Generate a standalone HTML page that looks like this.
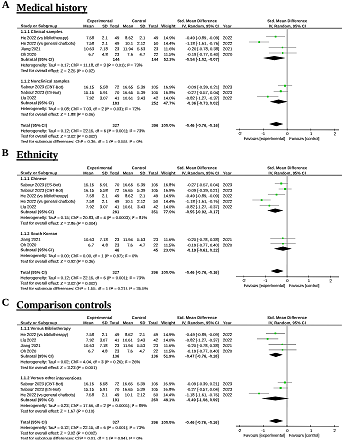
<!DOCTYPE html>
<html lang="en">
<head>
<meta charset="utf-8">
<title>Forest plots: Medical history, Ethnicity, Comparison controls</title>
<style>
html,body{margin:0;padding:0;background:#fff;}
body{width:342px;height:440px;overflow:hidden;}
svg{display:block;}
text{text-rendering:geometricPrecision;font-family:"Liberation Sans",Arial,sans-serif;font-size:4.08px;fill:#000;stroke:#000;stroke-width:0.06px;}
text.b{font-weight:bold;font-size:4.04px;stroke:none;fill:#111;}
text.w{font-size:4.25px;}
text.H{font-family:"Liberation Serif","Times New Roman",serif;font-weight:bold;font-size:10.58px;}
text.L{font-family:"Liberation Serif","Times New Roman",serif;font-weight:bold;font-size:10.3px;}
</style>
</head>
<body>
<svg width="342" height="440" viewBox="0 0 342 440">
<defs><filter id="sh" x="0" y="0" width="100%" height="100%" color-interpolation-filters="sRGB"><feConvolveMatrix order="3" kernelMatrix="0 -0.15 0 -0.15 1.6 -0.15 0 -0.15 0" edgeMode="duplicate" preserveAlpha="true"/></filter></defs>
<g filter="url(#sh)">
<rect x="0" y="0" width="342" height="440" fill="#fff"/>
<g transform="rotate(0.03 171 220)">
<text class="L" x="1.80" y="8.05">A</text>
<text class="H" x="16.40" y="11.10">Medical history</text>
<rect class="ul" x="16.4" y="12.35" width="70.80" height="1.15" fill="#000"/>
<text class="b" x="99.75" y="22.25" text-anchor="middle">Experimental</text>
<text class="b" x="139.00" y="22.25" text-anchor="middle">Control</text>
<text class="b" x="197.00" y="22.25" text-anchor="middle">Std. Mean Difference</text>
<text class="b" x="287.20" y="22.25" text-anchor="middle">Std. Mean Difference</text>
<text class="b" x="20.60" y="27.45">Study or Subgroup</text>
<text class="b" x="93.50" y="27.45" text-anchor="end">Mean</text>
<text class="b" x="107.70" y="27.45" text-anchor="end">SD</text>
<text class="b" x="119.10" y="27.45" text-anchor="end">Total</text>
<text class="b" x="133.00" y="27.45" text-anchor="end">Mean</text>
<text class="b" x="145.40" y="27.45" text-anchor="end">SD</text>
<text class="b" x="157.80" y="27.45" text-anchor="end">Total</text>
<text class="b w" x="175.30" y="27.45" text-anchor="end">Weight</text>
<text class="b" x="219.20" y="27.45" text-anchor="end">IV, Random, 95% CI</text>
<text class="b" x="223.00" y="27.45">Year</text>
<text class="b" x="287.20" y="27.45" text-anchor="middle">IV, Random, 95% CI</text>
<rect x="17.0" y="27.75" width="325" height="0.9" fill="#666"/>
<rect x="286.50" y="28.00" width="1.2" height="101.75" fill="#adadad"/>
<text class="b" x="20.60" y="33.00">1.1.1 Clinical samples</text>
<text class="t" x="20.60" y="39.30">He 2022 (vs bibliotherapy)</text>
<text class="t" x="94.00" y="39.30" text-anchor="end">7.58</text>
<text class="t" x="107.70" y="39.30" text-anchor="end">2.1</text>
<text class="t" x="119.30" y="39.30" text-anchor="end">49</text>
<text class="t" x="132.90" y="39.30" text-anchor="end">8.62</text>
<text class="t" x="145.20" y="39.30" text-anchor="end">2.1</text>
<text class="t" x="158.10" y="39.30" text-anchor="end">49</text>
<text class="t" x="175.00" y="39.30" text-anchor="end">14.9%</text>
<text class="t" x="219.00" y="39.30" text-anchor="end">-0.49 [-0.89, -0.09]</text>
<text class="t" x="223.00" y="39.30">2022</text>
<rect x="266.01" y="36.20" width="18.96" height="0.6" fill="#808080"/>
<rect x="274.59" y="35.60" width="1.79" height="1.79" fill="#12c812"/>
<text class="t" x="20.60" y="44.80">He 2022 (vs general chatbots)</text>
<text class="t" x="94.00" y="44.80" text-anchor="end">7.58</text>
<text class="t" x="107.70" y="44.80" text-anchor="end">2.1</text>
<text class="t" x="119.30" y="44.80" text-anchor="end">49</text>
<text class="t" x="132.90" y="44.80" text-anchor="end">10.1</text>
<text class="t" x="145.20" y="44.80" text-anchor="end">2.12</text>
<text class="t" x="158.10" y="44.80" text-anchor="end">50</text>
<text class="t" x="175.00" y="44.80" text-anchor="end">14.4%</text>
<text class="t" x="219.00" y="44.80" text-anchor="end">-1.18 [-1.61, -0.76]</text>
<text class="t" x="223.00" y="44.80">2022</text>
<rect x="248.94" y="41.70" width="20.15" height="0.6" fill="#808080"/>
<rect x="258.26" y="41.13" width="1.74" height="1.74" fill="#12c812"/>
<text class="t" x="20.60" y="50.30">Jiang 2021</text>
<text class="t" x="94.00" y="50.30" text-anchor="end">10.63</text>
<text class="t" x="107.70" y="50.30" text-anchor="end">7.18</text>
<text class="t" x="119.30" y="50.30" text-anchor="end">23</text>
<text class="t" x="132.90" y="50.30" text-anchor="end">11.94</text>
<text class="t" x="145.20" y="50.30" text-anchor="end">5.53</text>
<text class="t" x="158.10" y="50.30" text-anchor="end">23</text>
<text class="t" x="175.00" y="50.30" text-anchor="end">11.6%</text>
<text class="t" x="219.00" y="50.30" text-anchor="end">-0.20 [-0.78, 0.38]</text>
<text class="t" x="223.00" y="50.30">2021</text>
<rect x="268.61" y="47.20" width="27.49" height="0.6" fill="#808080"/>
<rect x="281.63" y="46.77" width="1.46" height="1.46" fill="#12c812"/>
<text class="t" x="20.60" y="55.80">Oh 2020</text>
<text class="t" x="94.00" y="55.80" text-anchor="end">6.7</text>
<text class="t" x="107.70" y="55.80" text-anchor="end">4.8</text>
<text class="t" x="119.30" y="55.80" text-anchor="end">23</text>
<text class="t" x="132.90" y="55.80" text-anchor="end">7.6</text>
<text class="t" x="145.20" y="55.80" text-anchor="end">4.7</text>
<text class="t" x="158.10" y="55.80" text-anchor="end">22</text>
<text class="t" x="175.00" y="55.80" text-anchor="end">11.5%</text>
<text class="t" x="219.00" y="55.80" text-anchor="end">-0.19 [-0.77, 0.40]</text>
<text class="t" x="223.00" y="55.80">2020</text>
<rect x="268.85" y="52.70" width="27.73" height="0.6" fill="#808080"/>
<rect x="281.87" y="52.27" width="1.45" height="1.45" fill="#12c812"/>
<text class="b" x="20.60" y="60.80">Subtotal (95% CI)</text>
<text class="b" x="119.30" y="60.80" text-anchor="end">144</text>
<text class="b" x="158.10" y="60.80" text-anchor="end">144</text>
<text class="b" x="175.00" y="60.80" text-anchor="end">52.3%</text>
<text class="b" x="219.00" y="60.80" text-anchor="end">-0.54 [-1.02, -0.07]</text>
<polygon points="262.93,58.00 274.30,55.90 285.44,58.00 274.30,60.10" fill="#000"/>
<text class="t" x="20.60" y="66.55">Heterogeneity: Tau² = 0.17; Chi² = 11.18, df = 3 (P = 0.01); I² = 73%</text>
<text class="t" x="20.60" y="72.20">Test for overall effect: Z = 2.25 (P = 0.02)</text>
<text class="b" x="20.60" y="82.65">1.1.2 Nonclinical samples</text>
<text class="t" x="20.60" y="88.45">Sabour 2023 (CBT-Bot)</text>
<text class="t" x="94.00" y="88.45" text-anchor="end">16.15</text>
<text class="t" x="107.70" y="88.45" text-anchor="end">5.58</text>
<text class="t" x="119.30" y="88.45" text-anchor="end">72</text>
<text class="t" x="132.90" y="88.45" text-anchor="end">16.65</text>
<text class="t" x="145.20" y="88.45" text-anchor="end">5.39</text>
<text class="t" x="158.10" y="88.45" text-anchor="end">105</text>
<text class="t" x="175.00" y="88.45" text-anchor="end">16.9%</text>
<text class="t" x="219.00" y="88.45" text-anchor="end">-0.09 [-0.39, 0.21]</text>
<text class="t" x="223.00" y="88.45">2023</text>
<rect x="277.86" y="85.35" width="14.22" height="0.6" fill="#808080"/>
<rect x="283.97" y="84.66" width="1.99" height="1.99" fill="#12c812"/>
<text class="t" x="20.60" y="93.95">Sabour 2023 (ES-Bot)</text>
<text class="t" x="94.00" y="93.95" text-anchor="end">15.15</text>
<text class="t" x="107.70" y="93.95" text-anchor="end">5.91</text>
<text class="t" x="119.30" y="93.95" text-anchor="end">70</text>
<text class="t" x="132.90" y="93.95" text-anchor="end">16.65</text>
<text class="t" x="145.20" y="93.95" text-anchor="end">5.39</text>
<text class="t" x="158.10" y="93.95" text-anchor="end">105</text>
<text class="t" x="175.00" y="93.95" text-anchor="end">16.8%</text>
<text class="t" x="219.00" y="93.95" text-anchor="end">-0.27 [-0.57, 0.04]</text>
<text class="t" x="223.00" y="93.95">2023</text>
<rect x="273.59" y="90.85" width="14.46" height="0.6" fill="#808080"/>
<rect x="279.71" y="90.16" width="1.98" height="1.98" fill="#12c812"/>
<text class="t" x="20.60" y="99.45">Liu 2022</text>
<text class="t" x="94.00" y="99.45" text-anchor="end">7.92</text>
<text class="t" x="107.70" y="99.45" text-anchor="end">3.07</text>
<text class="t" x="119.30" y="99.45" text-anchor="end">41</text>
<text class="t" x="132.90" y="99.45" text-anchor="end">10.61</text>
<text class="t" x="145.20" y="99.45" text-anchor="end">3.43</text>
<text class="t" x="158.10" y="99.45" text-anchor="end">42</text>
<text class="t" x="175.00" y="99.45" text-anchor="end">14.0%</text>
<text class="t" x="219.00" y="99.45" text-anchor="end">-0.82 [-1.27, -0.37]</text>
<text class="t" x="223.00" y="99.45">2022</text>
<rect x="257.00" y="96.35" width="21.33" height="0.6" fill="#808080"/>
<rect x="266.82" y="95.80" width="1.70" height="1.70" fill="#12c812"/>
<text class="b" x="20.60" y="104.45">Subtotal (95% CI)</text>
<text class="b" x="119.30" y="104.45" text-anchor="end">183</text>
<text class="b" x="158.10" y="104.45" text-anchor="end">252</text>
<text class="b" x="175.00" y="104.45" text-anchor="end">47.7%</text>
<text class="b" x="219.00" y="104.45" text-anchor="end">-0.36 [-0.73, 0.02]</text>
<polygon points="269.80,101.65 278.57,99.55 287.57,101.65 278.57,103.75" fill="#000"/>
<text class="t" x="20.60" y="110.20">Heterogeneity: Tau² = 0.08; Chi² = 7.03, df = 2 (P = 0.03); I² = 72%</text>
<text class="t" x="20.60" y="115.85">Test for overall effect: Z = 1.88 (P = 0.06)</text>
<text class="b" x="20.60" y="126.85">Total (95% CI)</text>
<text class="b" x="119.30" y="126.85" text-anchor="end">327</text>
<text class="b" x="158.10" y="126.85" text-anchor="end">396</text>
<text class="b" x="175.00" y="126.85" text-anchor="end">100.0%</text>
<text class="b" x="219.00" y="126.85" text-anchor="end">-0.46 [-0.76, -0.16]</text>
<polygon points="269.09,124.05 276.20,121.95 283.31,124.05 276.20,126.15" fill="#000"/>
<text class="t" x="20.60" y="132.30">Heterogeneity: Tau² = 0.12; Chi² = 22.15, df = 6 (P = 0.001); I² = 73%</text>
<text class="t" x="20.60" y="137.70">Test for overall effect: Z = 3.02 (P = 0.002)</text>
<text class="t" x="20.60" y="143.05">Test for subgroup differences: Chi² = 0.36, df = 1 (P = 0.55), I² = 0%</text>
<rect x="0" y="142.75" width="342" height="3.2" fill="#fff"/>
<rect x="236.0" y="129.45" width="103.0" height="0.6" fill="#333"/>
<rect x="239.45" y="128.55" width="0.5" height="2.0" fill="#222"/>
<text class="t" x="239.60" y="135.05" text-anchor="middle">-2</text>
<rect x="263.15" y="128.55" width="0.5" height="2.0" fill="#222"/>
<text class="t" x="263.30" y="135.05" text-anchor="middle">-1</text>
<rect x="286.85" y="128.55" width="0.5" height="2.0" fill="#222"/>
<text class="t" x="287.45" y="135.05" text-anchor="middle">0</text>
<rect x="310.55" y="128.55" width="0.5" height="2.0" fill="#222"/>
<text class="t" x="311.15" y="135.05" text-anchor="middle">1</text>
<rect x="334.25" y="128.55" width="0.5" height="2.0" fill="#222"/>
<text class="t" x="334.85" y="135.05" text-anchor="middle">2</text>
<text class="t" x="285.20" y="139.85" text-anchor="end">Favours [experimental]</text>
<text class="t" x="289.10" y="139.85">Favours [control]</text>
<text class="L" x="1.80" y="156.15">B</text>
<text class="H" x="16.40" y="158.20">Ethnicity</text>
<rect class="ul" x="16.4" y="159.45" width="41.70" height="1.15" fill="#000"/>
<text class="b" x="99.75" y="169.25" text-anchor="middle">Experimental</text>
<text class="b" x="139.00" y="169.25" text-anchor="middle">Control</text>
<text class="b" x="197.00" y="169.25" text-anchor="middle">Std. Mean Difference</text>
<text class="b" x="287.20" y="169.25" text-anchor="middle">Std. Mean Difference</text>
<text class="b" x="20.60" y="174.45">Study or Subgroup</text>
<text class="b" x="93.50" y="174.45" text-anchor="end">Mean</text>
<text class="b" x="107.70" y="174.45" text-anchor="end">SD</text>
<text class="b" x="119.10" y="174.45" text-anchor="end">Total</text>
<text class="b" x="133.00" y="174.45" text-anchor="end">Mean</text>
<text class="b" x="145.40" y="174.45" text-anchor="end">SD</text>
<text class="b" x="157.80" y="174.45" text-anchor="end">Total</text>
<text class="b w" x="175.30" y="174.45" text-anchor="end">Weight</text>
<text class="b" x="219.20" y="174.45" text-anchor="end">IV, Random, 95% CI</text>
<text class="b" x="223.00" y="174.45">Year</text>
<text class="b" x="287.20" y="174.45" text-anchor="middle">IV, Random, 95% CI</text>
<rect x="17.0" y="174.75" width="325" height="0.9" fill="#666"/>
<rect x="286.50" y="175.00" width="1.2" height="101.75" fill="#adadad"/>
<text class="b" x="20.60" y="180.00">1.1.1 Chinese</text>
<text class="t" x="20.60" y="186.30">Sabour 2023 (ES-Bot)</text>
<text class="t" x="94.00" y="186.30" text-anchor="end">15.15</text>
<text class="t" x="107.70" y="186.30" text-anchor="end">5.91</text>
<text class="t" x="119.30" y="186.30" text-anchor="end">70</text>
<text class="t" x="132.90" y="186.30" text-anchor="end">16.65</text>
<text class="t" x="145.20" y="186.30" text-anchor="end">5.39</text>
<text class="t" x="158.10" y="186.30" text-anchor="end">105</text>
<text class="t" x="175.00" y="186.30" text-anchor="end">16.8%</text>
<text class="t" x="219.00" y="186.30" text-anchor="end">-0.27 [-0.57, 0.04]</text>
<text class="t" x="223.00" y="186.30">2023</text>
<rect x="274.79" y="183.20" width="13.18" height="0.6" fill="#808080"/>
<rect x="280.28" y="182.51" width="1.98" height="1.98" fill="#12c812"/>
<text class="t" x="20.60" y="191.80">Sabour 2023 (CBT-Bot)</text>
<text class="t" x="94.00" y="191.80" text-anchor="end">16.15</text>
<text class="t" x="107.70" y="191.80" text-anchor="end">5.58</text>
<text class="t" x="119.30" y="191.80" text-anchor="end">72</text>
<text class="t" x="132.90" y="191.80" text-anchor="end">16.65</text>
<text class="t" x="145.20" y="191.80" text-anchor="end">5.39</text>
<text class="t" x="158.10" y="191.80" text-anchor="end">105</text>
<text class="t" x="175.00" y="191.80" text-anchor="end">16.9%</text>
<text class="t" x="219.00" y="191.80" text-anchor="end">-0.09 [-0.39, 0.21]</text>
<text class="t" x="223.00" y="191.80">2023</text>
<rect x="278.68" y="188.70" width="12.96" height="0.6" fill="#808080"/>
<rect x="284.16" y="188.00" width="1.99" height="1.99" fill="#12c812"/>
<text class="t" x="20.60" y="197.30">He 2022 (vs bibliotherapy)</text>
<text class="t" x="94.00" y="197.30" text-anchor="end">7.58</text>
<text class="t" x="107.70" y="197.30" text-anchor="end">2.1</text>
<text class="t" x="119.30" y="197.30" text-anchor="end">49</text>
<text class="t" x="132.90" y="197.30" text-anchor="end">8.62</text>
<text class="t" x="145.20" y="197.30" text-anchor="end">2.1</text>
<text class="t" x="158.10" y="197.30" text-anchor="end">49</text>
<text class="t" x="175.00" y="197.30" text-anchor="end">14.9%</text>
<text class="t" x="219.00" y="197.30" text-anchor="end">-0.49 [-0.89, -0.09]</text>
<text class="t" x="223.00" y="197.30">2022</text>
<rect x="267.88" y="194.20" width="17.28" height="0.6" fill="#808080"/>
<rect x="275.62" y="193.60" width="1.79" height="1.79" fill="#12c812"/>
<text class="t" x="20.60" y="202.80">He 2022 (vs general chatbots)</text>
<text class="t" x="94.00" y="202.80" text-anchor="end">7.58</text>
<text class="t" x="107.70" y="202.80" text-anchor="end">2.1</text>
<text class="t" x="119.30" y="202.80" text-anchor="end">49</text>
<text class="t" x="132.90" y="202.80" text-anchor="end">10.1</text>
<text class="t" x="145.20" y="202.80" text-anchor="end">2.12</text>
<text class="t" x="158.10" y="202.80" text-anchor="end">50</text>
<text class="t" x="175.00" y="202.80" text-anchor="end">14.4%</text>
<text class="t" x="219.00" y="202.80" text-anchor="end">-1.18 [-1.61, -0.76]</text>
<text class="t" x="223.00" y="202.80">2022</text>
<rect x="252.32" y="199.70" width="18.36" height="0.6" fill="#808080"/>
<rect x="260.74" y="199.13" width="1.74" height="1.74" fill="#12c812"/>
<text class="t" x="20.60" y="208.30">Liu 2022</text>
<text class="t" x="94.00" y="208.30" text-anchor="end">7.92</text>
<text class="t" x="107.70" y="208.30" text-anchor="end">3.07</text>
<text class="t" x="119.30" y="208.30" text-anchor="end">41</text>
<text class="t" x="132.90" y="208.30" text-anchor="end">10.61</text>
<text class="t" x="145.20" y="208.30" text-anchor="end">3.43</text>
<text class="t" x="158.10" y="208.30" text-anchor="end">42</text>
<text class="t" x="175.00" y="208.30" text-anchor="end">14.0%</text>
<text class="t" x="219.00" y="208.30" text-anchor="end">-0.82 [-1.27, -0.37]</text>
<text class="t" x="223.00" y="208.30">2022</text>
<rect x="259.67" y="205.20" width="19.44" height="0.6" fill="#808080"/>
<rect x="268.54" y="204.65" width="1.70" height="1.70" fill="#12c812"/>
<text class="b" x="20.60" y="213.30">Subtotal (95% CI)</text>
<text class="b" x="119.30" y="213.30" text-anchor="end">281</text>
<text class="b" x="158.10" y="213.30" text-anchor="end">351</text>
<text class="b" x="175.00" y="213.30" text-anchor="end">77.0%</text>
<text class="b" x="219.00" y="213.30" text-anchor="end">-0.55 [-0.92, -0.17]</text>
<polygon points="267.23,210.50 275.22,208.40 283.43,210.50 275.22,212.60" fill="#000"/>
<text class="t" x="20.60" y="219.05">Heterogeneity: Tau² = 0.15; Chi² = 20.83, df = 4 (P = 0.0003); I² = 81%</text>
<text class="t" x="20.60" y="224.70">Test for overall effect: Z = 2.86 (P = 0.004)</text>
<text class="b" x="20.60" y="235.15">1.1.2 South Korean</text>
<text class="t" x="20.60" y="240.95">Jiang 2021</text>
<text class="t" x="94.00" y="240.95" text-anchor="end">10.63</text>
<text class="t" x="107.70" y="240.95" text-anchor="end">7.18</text>
<text class="t" x="119.30" y="240.95" text-anchor="end">23</text>
<text class="t" x="132.90" y="240.95" text-anchor="end">11.94</text>
<text class="t" x="145.20" y="240.95" text-anchor="end">5.53</text>
<text class="t" x="158.10" y="240.95" text-anchor="end">23</text>
<text class="t" x="175.00" y="240.95" text-anchor="end">11.6%</text>
<text class="t" x="219.00" y="240.95" text-anchor="end">-0.20 [-0.78, 0.38]</text>
<text class="t" x="223.00" y="240.95">2021</text>
<rect x="270.25" y="237.85" width="25.06" height="0.6" fill="#808080"/>
<rect x="282.05" y="237.42" width="1.46" height="1.46" fill="#12c812"/>
<text class="t" x="20.60" y="246.45">Oh 2020</text>
<text class="t" x="94.00" y="246.45" text-anchor="end">6.7</text>
<text class="t" x="107.70" y="246.45" text-anchor="end">4.8</text>
<text class="t" x="119.30" y="246.45" text-anchor="end">23</text>
<text class="t" x="132.90" y="246.45" text-anchor="end">7.6</text>
<text class="t" x="145.20" y="246.45" text-anchor="end">4.7</text>
<text class="t" x="158.10" y="246.45" text-anchor="end">22</text>
<text class="t" x="175.00" y="246.45" text-anchor="end">11.5%</text>
<text class="t" x="219.00" y="246.45" text-anchor="end">-0.19 [-0.77, 0.40]</text>
<text class="t" x="223.00" y="246.45">2020</text>
<rect x="270.47" y="243.35" width="25.27" height="0.6" fill="#808080"/>
<rect x="282.27" y="242.93" width="1.45" height="1.45" fill="#12c812"/>
<text class="b" x="20.60" y="251.45">Subtotal (95% CI)</text>
<text class="b" x="119.30" y="251.45" text-anchor="end">46</text>
<text class="b" x="158.10" y="251.45" text-anchor="end">45</text>
<text class="b" x="175.00" y="251.45" text-anchor="end">23.0%</text>
<text class="b" x="219.00" y="251.45" text-anchor="end">-0.19 [-0.61, 0.22]</text>
<polygon points="273.92,248.65 283.00,246.55 291.85,248.65 283.00,250.75" fill="#000"/>
<text class="t" x="20.60" y="257.20">Heterogeneity: Tau² = 0.00; Chi² = 0.00, df = 1 (P = 0.97); I² = 0%</text>
<text class="t" x="20.60" y="262.85">Test for overall effect: Z = 0.92 (P = 0.36)</text>
<text class="b" x="20.60" y="273.85">Total (95% CI)</text>
<text class="b" x="119.30" y="273.85" text-anchor="end">327</text>
<text class="b" x="158.10" y="273.85" text-anchor="end">396</text>
<text class="b" x="175.00" y="273.85" text-anchor="end">100.0%</text>
<text class="b" x="219.00" y="273.85" text-anchor="end">-0.46 [-0.76, -0.16]</text>
<polygon points="270.68,271.05 277.16,268.95 283.64,271.05 277.16,273.15" fill="#000"/>
<text class="t" x="20.60" y="279.30">Heterogeneity: Tau² = 0.12; Chi² = 22.15, df = 6 (P = 0.001); I² = 73%</text>
<text class="t" x="20.60" y="284.70">Test for overall effect: Z = 3.02 (P = 0.002)</text>
<text class="t" x="20.60" y="290.05">Test for subgroup differences: Chi² = 1.55, df = 1 (P = 0.21), I² = 35.5%</text>
<rect x="0" y="289.75" width="342" height="3.2" fill="#fff"/>
<rect x="236.0" y="276.45" width="103.0" height="0.6" fill="#333"/>
<rect x="243.65" y="275.55" width="0.5" height="2.0" fill="#222"/>
<text class="t" x="243.80" y="282.05" text-anchor="middle">-2</text>
<rect x="265.25" y="275.55" width="0.5" height="2.0" fill="#222"/>
<text class="t" x="265.40" y="282.05" text-anchor="middle">-1</text>
<rect x="286.85" y="275.55" width="0.5" height="2.0" fill="#222"/>
<text class="t" x="287.45" y="282.05" text-anchor="middle">0</text>
<rect x="308.45" y="275.55" width="0.5" height="2.0" fill="#222"/>
<text class="t" x="309.05" y="282.05" text-anchor="middle">1</text>
<rect x="330.05" y="275.55" width="0.5" height="2.0" fill="#222"/>
<text class="t" x="330.65" y="282.05" text-anchor="middle">2</text>
<text class="t" x="285.20" y="286.85" text-anchor="end">Favours [experimental]</text>
<text class="t" x="289.10" y="286.85">Favours [control]</text>
<text class="L" x="1.80" y="305.55">C</text>
<text class="H" x="16.40" y="308.30">Comparison controls</text>
<rect class="ul" x="16.4" y="309.55" width="94.70" height="1.15" fill="#000"/>
<text class="b" x="99.75" y="319.05" text-anchor="middle">Experimental</text>
<text class="b" x="139.00" y="319.05" text-anchor="middle">Control</text>
<text class="b" x="197.00" y="319.05" text-anchor="middle">Std. Mean Difference</text>
<text class="b" x="287.20" y="319.05" text-anchor="middle">Std. Mean Difference</text>
<text class="b" x="20.60" y="324.25">Study or Subgroup</text>
<text class="b" x="93.50" y="324.25" text-anchor="end">Mean</text>
<text class="b" x="107.70" y="324.25" text-anchor="end">SD</text>
<text class="b" x="119.10" y="324.25" text-anchor="end">Total</text>
<text class="b" x="133.00" y="324.25" text-anchor="end">Mean</text>
<text class="b" x="145.40" y="324.25" text-anchor="end">SD</text>
<text class="b" x="157.80" y="324.25" text-anchor="end">Total</text>
<text class="b w" x="175.30" y="324.25" text-anchor="end">Weight</text>
<text class="b" x="219.20" y="324.25" text-anchor="end">IV, Random, 95% CI</text>
<text class="b" x="223.00" y="324.25">Year</text>
<text class="b" x="287.20" y="324.25" text-anchor="middle">IV, Random, 95% CI</text>
<rect x="17.0" y="324.55" width="325" height="0.9" fill="#666"/>
<rect x="286.50" y="324.80" width="1.2" height="101.30" fill="#adadad"/>
<text class="b" x="20.60" y="329.80">1.1.1 Versus Bibliotherapy</text>
<text class="t" x="20.60" y="336.10">He 2022 (vs bibliotherapy)</text>
<text class="t" x="94.00" y="336.10" text-anchor="end">7.58</text>
<text class="t" x="107.70" y="336.10" text-anchor="end">2.1</text>
<text class="t" x="119.30" y="336.10" text-anchor="end">49</text>
<text class="t" x="132.90" y="336.10" text-anchor="end">8.62</text>
<text class="t" x="145.20" y="336.10" text-anchor="end">2.1</text>
<text class="t" x="158.10" y="336.10" text-anchor="end">49</text>
<text class="t" x="175.00" y="336.10" text-anchor="end">14.9%</text>
<text class="t" x="219.00" y="336.10" text-anchor="end">-0.49 [-0.89, -0.09]</text>
<text class="t" x="223.00" y="336.10">2022</text>
<rect x="266.01" y="333.00" width="18.96" height="0.6" fill="#808080"/>
<rect x="274.59" y="332.41" width="1.79" height="1.79" fill="#12c812"/>
<text class="t" x="20.60" y="341.60">Liu 2022</text>
<text class="t" x="94.00" y="341.60" text-anchor="end">7.92</text>
<text class="t" x="107.70" y="341.60" text-anchor="end">3.07</text>
<text class="t" x="119.30" y="341.60" text-anchor="end">41</text>
<text class="t" x="132.90" y="341.60" text-anchor="end">10.61</text>
<text class="t" x="145.20" y="341.60" text-anchor="end">3.43</text>
<text class="t" x="158.10" y="341.60" text-anchor="end">42</text>
<text class="t" x="175.00" y="341.60" text-anchor="end">14.0%</text>
<text class="t" x="219.00" y="341.60" text-anchor="end">-0.82 [-1.27, -0.37]</text>
<text class="t" x="223.00" y="341.60">2022</text>
<rect x="257.00" y="338.50" width="21.33" height="0.6" fill="#808080"/>
<rect x="266.82" y="337.95" width="1.70" height="1.70" fill="#12c812"/>
<text class="t" x="20.60" y="347.10">Jiang 2021</text>
<text class="t" x="94.00" y="347.10" text-anchor="end">10.63</text>
<text class="t" x="107.70" y="347.10" text-anchor="end">7.18</text>
<text class="t" x="119.30" y="347.10" text-anchor="end">23</text>
<text class="t" x="132.90" y="347.10" text-anchor="end">11.94</text>
<text class="t" x="145.20" y="347.10" text-anchor="end">5.53</text>
<text class="t" x="158.10" y="347.10" text-anchor="end">23</text>
<text class="t" x="175.00" y="347.10" text-anchor="end">11.6%</text>
<text class="t" x="219.00" y="347.10" text-anchor="end">-0.20 [-0.78, 0.38]</text>
<text class="t" x="223.00" y="347.10">2021</text>
<rect x="268.61" y="344.00" width="27.49" height="0.6" fill="#808080"/>
<rect x="281.63" y="343.57" width="1.46" height="1.46" fill="#12c812"/>
<text class="t" x="20.60" y="352.60">Oh 2020</text>
<text class="t" x="94.00" y="352.60" text-anchor="end">6.7</text>
<text class="t" x="107.70" y="352.60" text-anchor="end">4.8</text>
<text class="t" x="119.30" y="352.60" text-anchor="end">23</text>
<text class="t" x="132.90" y="352.60" text-anchor="end">7.6</text>
<text class="t" x="145.20" y="352.60" text-anchor="end">4.7</text>
<text class="t" x="158.10" y="352.60" text-anchor="end">22</text>
<text class="t" x="175.00" y="352.60" text-anchor="end">11.5%</text>
<text class="t" x="219.00" y="352.60" text-anchor="end">-0.19 [-0.77, 0.40]</text>
<text class="t" x="223.00" y="352.60">2020</text>
<rect x="268.85" y="349.50" width="27.73" height="0.6" fill="#808080"/>
<rect x="281.87" y="349.07" width="1.45" height="1.45" fill="#12c812"/>
<text class="b" x="20.60" y="357.60">Subtotal (95% CI)</text>
<text class="b" x="119.30" y="357.60" text-anchor="end">136</text>
<text class="b" x="158.10" y="357.60" text-anchor="end">136</text>
<text class="b" x="175.00" y="357.60" text-anchor="end">51.9%</text>
<text class="b" x="219.00" y="357.60" text-anchor="end">-0.47 [-0.76, -0.18]</text>
<polygon points="269.09,354.80 275.96,352.70 282.83,354.80 275.96,356.90" fill="#000"/>
<text class="t" x="20.60" y="363.35">Heterogeneity: Tau² = 0.02; Chi² = 4.04, df = 3 (P = 0.26); I² = 26%</text>
<text class="t" x="20.60" y="369.00">Test for overall effect: Z = 3.23 (P = 0.001)</text>
<text class="b" x="20.60" y="379.45">1.1.2 Versus other interventions</text>
<text class="t" x="20.60" y="385.25">Sabour 2023 (CBT-Bot)</text>
<text class="t" x="94.00" y="385.25" text-anchor="end">16.15</text>
<text class="t" x="107.70" y="385.25" text-anchor="end">5.58</text>
<text class="t" x="119.30" y="385.25" text-anchor="end">72</text>
<text class="t" x="132.90" y="385.25" text-anchor="end">16.65</text>
<text class="t" x="145.20" y="385.25" text-anchor="end">5.39</text>
<text class="t" x="158.10" y="385.25" text-anchor="end">105</text>
<text class="t" x="175.00" y="385.25" text-anchor="end">16.9%</text>
<text class="t" x="219.00" y="385.25" text-anchor="end">-0.09 [-0.39, 0.21]</text>
<text class="t" x="223.00" y="385.25">2023</text>
<rect x="277.86" y="382.15" width="14.22" height="0.6" fill="#808080"/>
<rect x="283.97" y="381.45" width="1.99" height="1.99" fill="#12c812"/>
<text class="t" x="20.60" y="390.75">Sabour 2023 (ES-Bot)</text>
<text class="t" x="94.00" y="390.75" text-anchor="end">15.15</text>
<text class="t" x="107.70" y="390.75" text-anchor="end">5.91</text>
<text class="t" x="119.30" y="390.75" text-anchor="end">70</text>
<text class="t" x="132.90" y="390.75" text-anchor="end">16.65</text>
<text class="t" x="145.20" y="390.75" text-anchor="end">5.39</text>
<text class="t" x="158.10" y="390.75" text-anchor="end">105</text>
<text class="t" x="175.00" y="390.75" text-anchor="end">16.8%</text>
<text class="t" x="219.00" y="390.75" text-anchor="end">-0.27 [-0.57, 0.04]</text>
<text class="t" x="223.00" y="390.75">2023</text>
<rect x="273.59" y="387.65" width="14.46" height="0.6" fill="#808080"/>
<rect x="279.71" y="386.96" width="1.98" height="1.98" fill="#12c812"/>
<text class="t" x="20.60" y="396.25">He 2022 (vs general chatbots)</text>
<text class="t" x="94.00" y="396.25" text-anchor="end">7.58</text>
<text class="t" x="107.70" y="396.25" text-anchor="end">2.1</text>
<text class="t" x="119.30" y="396.25" text-anchor="end">49</text>
<text class="t" x="132.90" y="396.25" text-anchor="end">10.1</text>
<text class="t" x="145.20" y="396.25" text-anchor="end">2.12</text>
<text class="t" x="158.10" y="396.25" text-anchor="end">50</text>
<text class="t" x="175.00" y="396.25" text-anchor="end">14.4%</text>
<text class="t" x="219.00" y="396.25" text-anchor="end">-1.18 [-1.61, -0.76]</text>
<text class="t" x="223.00" y="396.25">2022</text>
<rect x="248.94" y="393.15" width="20.15" height="0.6" fill="#808080"/>
<rect x="258.26" y="392.58" width="1.74" height="1.74" fill="#12c812"/>
<text class="b" x="20.60" y="401.25">Subtotal (95% CI)</text>
<text class="b" x="119.30" y="401.25" text-anchor="end">191</text>
<text class="b" x="158.10" y="401.25" text-anchor="end">260</text>
<text class="b" x="175.00" y="401.25" text-anchor="end">48.1%</text>
<text class="b" x="219.00" y="401.25" text-anchor="end">-0.49 [-1.08, 0.09]</text>
<polygon points="261.50,398.45 275.49,396.35 289.23,398.45 275.49,400.55" fill="#000"/>
<text class="t" x="20.60" y="407.00">Heterogeneity: Tau² = 0.23; Chi² = 17.66, df = 2 (P = 0.0001); I² = 89%</text>
<text class="t" x="20.60" y="412.65">Test for overall effect: Z = 1.67 (P = 0.10)</text>
<text class="b" x="20.60" y="423.65">Total (95% CI)</text>
<text class="b" x="119.30" y="423.65" text-anchor="end">327</text>
<text class="b" x="158.10" y="423.65" text-anchor="end">396</text>
<text class="b" x="175.00" y="423.65" text-anchor="end">100.0%</text>
<text class="b" x="219.00" y="423.65" text-anchor="end">-0.46 [-0.76, -0.16]</text>
<polygon points="269.09,420.85 276.20,418.75 283.31,420.85 276.20,422.95" fill="#000"/>
<text class="t" x="20.60" y="429.10">Heterogeneity: Tau² = 0.12; Chi² = 22.15, df = 6 (P = 0.001); I² = 73%</text>
<text class="t" x="20.60" y="434.50">Test for overall effect: Z = 3.02 (P = 0.002)</text>
<text class="t" x="20.60" y="439.85">Test for subgroup differences: Chi² = 0.01, df = 1 (P = 0.94), I² = 0%</text>
<rect x="0" y="439.55" width="342" height="3.2" fill="#fff"/>
<rect x="236.0" y="425.80" width="103.0" height="0.6" fill="#333"/>
<rect x="239.45" y="424.90" width="0.5" height="2.0" fill="#222"/>
<text class="t" x="239.60" y="431.85" text-anchor="middle">-2</text>
<rect x="263.15" y="424.90" width="0.5" height="2.0" fill="#222"/>
<text class="t" x="263.30" y="431.85" text-anchor="middle">-1</text>
<rect x="286.85" y="424.90" width="0.5" height="2.0" fill="#222"/>
<text class="t" x="287.45" y="431.85" text-anchor="middle">0</text>
<rect x="310.55" y="424.90" width="0.5" height="2.0" fill="#222"/>
<text class="t" x="311.15" y="431.85" text-anchor="middle">1</text>
<rect x="334.25" y="424.90" width="0.5" height="2.0" fill="#222"/>
<text class="t" x="334.85" y="431.85" text-anchor="middle">2</text>
<text class="t" x="285.20" y="436.65" text-anchor="end">Favours [experimental]</text>
<text class="t" x="289.10" y="436.65">Favours [control]</text>
</g>
</g>
</svg>
</body>
</html>
